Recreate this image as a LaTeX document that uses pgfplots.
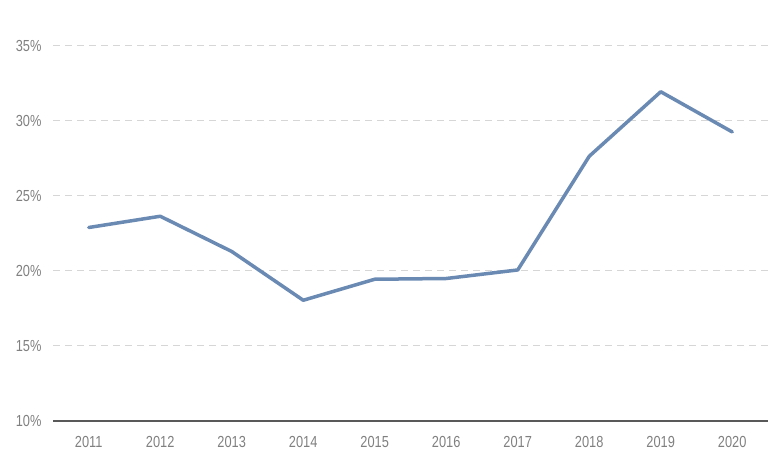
\documentclass[border=0pt]{standalone}
\usepackage{pgfplots}
\pgfplotsset{compat=1.18}
\usepackage{fontspec}
\setmainfont[FakeStretch=0.8]{Liberation Sans}
\definecolor{linecol}{HTML}{6A8AB3}
\definecolor{labcol}{HTML}{808080}
\definecolor{gridcol}{HTML}{D6D6D6}
\definecolor{axcol}{HTML}{595959}
\begin{document}
\begin{tikzpicture}
\path[use as bounding box] (0,0) rectangle (768bp,455bp);
\begin{axis}[
  at={(53bp,34bp)}, anchor=south west,
  scale only axis, width=715bp, height=375bp,
  xmin=2010.5, xmax=2020.5, ymin=10, ymax=35,
  xtick={2011,...,2020}, ytick={10,15,...,35},
  xticklabel style={/pgf/number format/1000 sep={}, yshift=-12bp},
  yticklabel={\pgfmathprintnumber{\tick}\%},
  yticklabel style={xshift=-8bp},
  /pgf/number format/assume math mode=true,
  tick label style={font=\fontsize{16bp}{18bp}\selectfont, text=labcol},
  major tick length=0pt,
  axis line style={draw=none},
  ymajorgrids,
  major grid style={gridcol, line width=1bp, dash pattern=on 7bp off 5bp},
  clip=false,
]
\addplot[linecol, line width=3.5bp, line join=round, line cap=round] coordinates {
(2011,22.9) (2012,23.65) (2013,21.3) (2014,18.05) (2015,19.45)
(2016,19.5) (2017,20.07) (2018,27.65) (2019,31.95) (2020,29.27)};
\draw[axcol, line width=1.3bp] (axis cs:2010.5,10) -- (axis cs:2020.5,10);
\end{axis}
\end{tikzpicture}
\end{document}
